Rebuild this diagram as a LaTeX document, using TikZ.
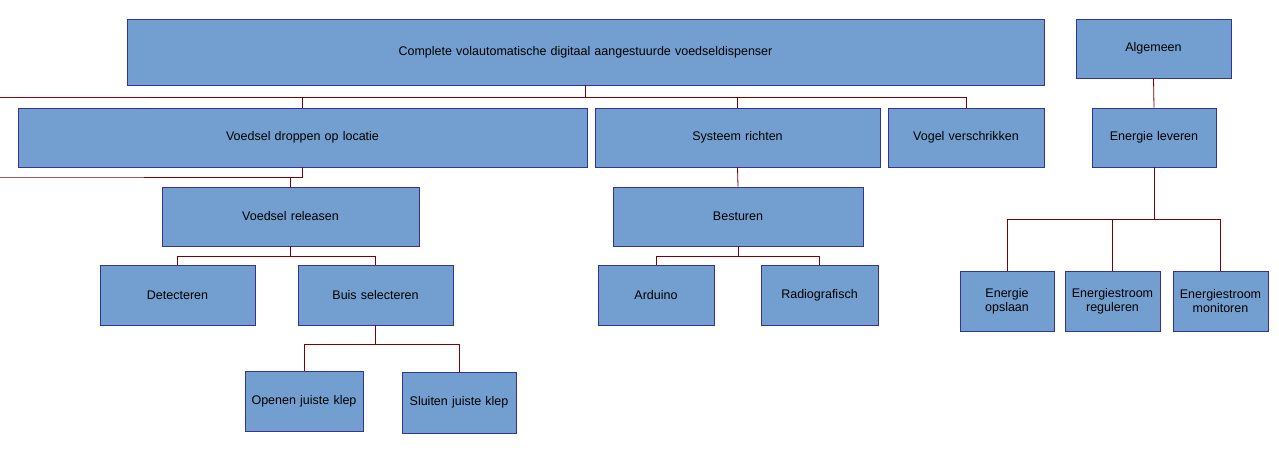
\documentclass[tikz,border=0pt]{standalone}
\usepackage{fontspec}
\setmainfont{Liberation Sans}
\begin{document}
\begin{tikzpicture}[x=1pt,y=-1pt,
  bx/.style={draw=blue!50!black!80,fill={rgb,255:red,114;green,159;blue,207},line width=0.8pt,inner sep=0pt,align=center,font=\fontsize{12.5}{14}\selectfont},
  ln/.style={draw={rgb,255:red,128;green,0;blue,0},line width=0.8pt}]
\useasboundingbox (0,0) rectangle (1279,451);
\newcommand\bx[6]{\node[bx,minimum width=#4-#2,minimum height=#5-#3,text width=#4-#2-4] (#1) at ({(#2+#4)/2},{(#3+#5)/2}) {#6};}
\bx{top}{127}{19}{1044}{85}{Complete volautomatische digitaal aangestuurde voedseldispenser}
\bx{alg}{1076}{19}{1231}{78}{Algemeen}
\bx{vd}{18}{108}{587}{167}{Voedsel droppen op locatie}
\bx{sr}{595}{108}{880}{167}{Systeem richten}
\bx{vv}{888}{108}{1044}{167}{Vogel verschrikken}
\bx{el}{1092}{108}{1216}{167}{Energie leveren}
\bx{vr}{162}{187}{419}{246}{Voedsel releasen}
\bx{be}{613}{187}{863}{246}{Besturen}
\bx{de}{100}{265}{255}{325}{Detecteren}
\bx{bs}{298}{265}{453}{325}{Buis selecteren}
\bx{ar}{598}{265}{714}{325}{Arduino}
\bx{ra}{761}{265}{878}{325}{Radiografisch}
\bx{eo}{960}{271}{1054}{331}{Energie\\opslaan}
\bx{er}{1065}{271}{1160}{331}{Energiestroom\\reguleren}
\bx{em}{1173}{271}{1268}{331}{Energiestroom\\monitoren}
\bx{op}{245}{371}{363}{431}{Openen juiste klep}
\bx{sl}{402}{372}{516}{433}{Sluiten juiste klep}
\coordinate (b1) at (0,97);
\coordinate (b2) at (0,177);
\coordinate (b3) at (0,256);
\coordinate (b4) at (0,344);
\coordinate (b5) at (0,219);
\foreach \c in {vd,sr,vv} \draw[ln] (top.south) |- (b1) -| ([xshift=0pt]\c.north);
\draw[ln] (top.south) -- (top.south|-b1) -| (vd.north);
\draw[ln] (top.south|-b1) -| (sr.north);
\draw[ln] (top.south|-b1) -| (vv.north);
\draw[ln] (vd.south) |- (b2) -| (vr.north);
\draw[ln] (vr.south) -- (vr.south|-b3) -| (de.north);
\draw[ln] (vr.south|-b3) -| (bs.north);
\draw[ln] (bs.south) -- (bs.south|-b4) -| (op.north);
\draw[ln] (bs.south|-b4) -| (sl.north);
\draw[ln] (sr.south) -- (be.north);
\draw[ln] (be.south) -- (be.south|-b3) -| (ar.north);
\draw[ln] (be.south|-b3) -| (ra.north);
\draw[ln] (alg.south) -- (el.north);
\draw[ln] (el.south) -- (el.south|-b5) -| (eo.north);
\draw[ln] (el.south|-b5) -| (er.north);
\draw[ln] (el.south|-b5) -| (em.north);
\end{tikzpicture}
\end{document}
